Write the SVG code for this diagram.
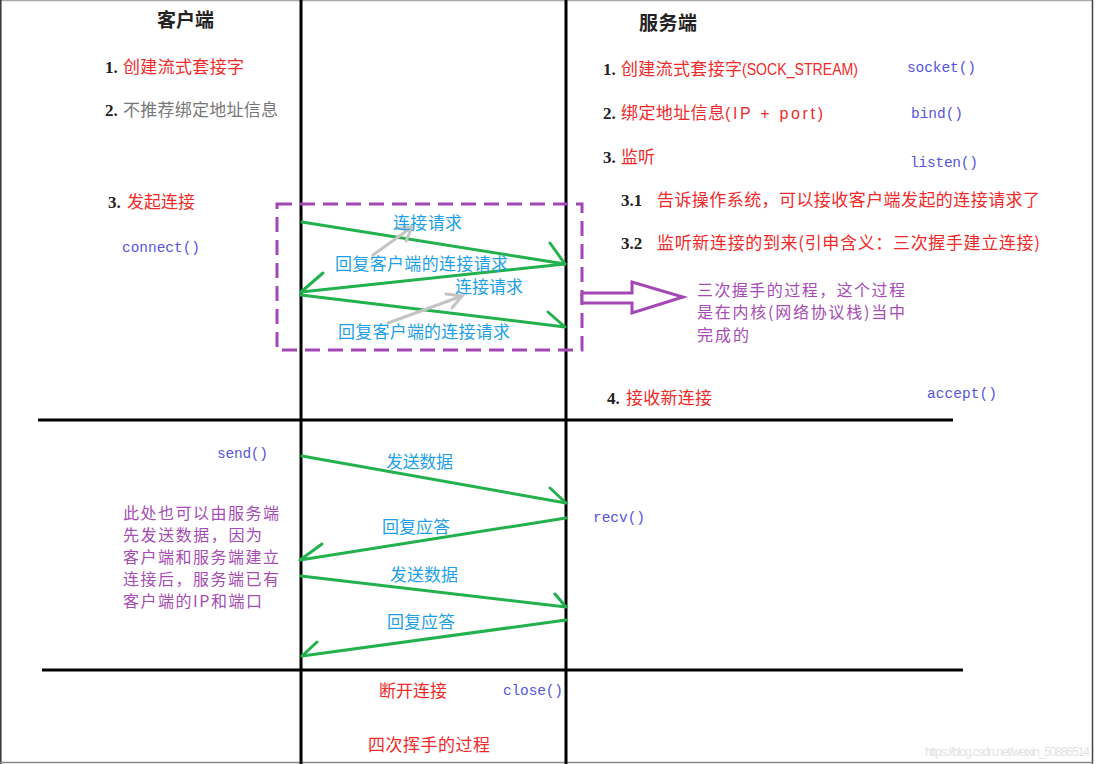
<svg xmlns="http://www.w3.org/2000/svg" width="1096" height="764" viewBox="0 0 1096 764">
<style>
.cjk{font-family:"Noto Sans CJK SC","Noto Sans",sans-serif;font-size:17px}
.sm{font-size:16px}
.hd{font-family:"Noto Sans CJK SC",sans-serif;font-size:19px;font-weight:bold;fill:#222}
.num{font-family:"Liberation Serif",serif;font-size:17px;font-weight:bold;fill:#222}
.red{fill:#f02a2a}
.gray{fill:#777}
.cyan{fill:#1f9fe6}
.pur{fill:#a64cb4}
.fn{font-family:"Liberation Mono",monospace;font-size:14.5px;fill:#5555dd}
.lat{font-family:"Liberation Sans",sans-serif;font-size:16px}
.axis{stroke:#000;stroke-width:3;fill:none}
.msg{stroke:#22b14c;stroke-width:3;fill:none;stroke-linecap:round}
.hint{stroke:#c4c4c4;stroke-width:3;fill:none;stroke-linecap:round}
</style>
<rect x="0" y="0" width="1096" height="764" fill="#fff"/>
<g id="frame">
<line x1="0" y1="0.5" x2="1093" y2="0.5" stroke="#aaa" stroke-width="1.5"/>
<line x1="0.8" y1="0" x2="0.8" y2="764" stroke="#333" stroke-width="1.5"/>
<line x1="1092.5" y1="0" x2="1092.5" y2="764" stroke="#444" stroke-width="1.5"/>
<line x1="0" y1="762.5" x2="1093" y2="762.5" stroke="#888" stroke-width="1.5"/>
</g>
<g id="lanes">
<line class="axis" x1="301" y1="0" x2="301" y2="764"/>
<line class="axis" x1="566" y1="0" x2="566" y2="764"/>
<line class="axis" x1="38" y1="420" x2="953" y2="420"/>
<line class="axis" x1="42" y1="670" x2="963" y2="670"/>
</g>
<g id="client">
<text class="hd" x="157" y="27" textLength="57">客户端</text>
<text x="105" y="73"><tspan class="num">1.</tspan><tspan class="cjk red" x="123" textLength="121">创建流式套接字</tspan></text>
<text x="105" y="116"><tspan class="num">2.</tspan><tspan class="cjk gray" x="123" textLength="155">不推荐绑定地址信息</tspan></text>
<text x="108" y="208"><tspan class="num">3.</tspan><tspan class="cjk red" x="127" textLength="68">发起连接</tspan></text>
<text class="fn" x="122" y="252" textLength="78">connect()</text>
<text class="fn" x="217" y="458" textLength="51">send()</text>
</g>
<g id="server">
<text class="hd" x="639" y="30" textLength="58">服务端</text>
<text x="603" y="75"><tspan class="num">1.</tspan><tspan class="cjk red" x="621" textLength="121">创建流式套接字</tspan><tspan class="lat red" x="742" textLength="116" lengthAdjust="spacingAndGlyphs">(SOCK_STREAM)</tspan></text>
<text class="fn" x="907" y="72" textLength="69">socket()</text>
<text x="603" y="119"><tspan class="num">2.</tspan><tspan class="cjk red" x="621" textLength="104">绑定地址信息</tspan><tspan class="lat red" x="725" textLength="98">(IP + port)</tspan></text>
<text class="fn" x="911" y="118" textLength="52">bind()</text>
<text x="603" y="163"><tspan class="num">3.</tspan><tspan class="cjk red" x="621" textLength="34">监听</tspan></text>
<text class="fn" x="910" y="167" textLength="68">listen()</text>
<text x="621" y="206"><tspan class="num">3.1</tspan><tspan class="cjk red" x="657" textLength="383">告诉操作系统，可以接收客户端发起的连接请求了</tspan></text>
<text x="621" y="249"><tspan class="num">3.2</tspan><tspan class="cjk red" x="657" textLength="383">监听新连接的到来(引申含义：三次握手建立连接)</tspan></text>
<text x="607" y="404"><tspan class="num">4.</tspan><tspan class="cjk red" x="626" textLength="86">接收新连接</tspan></text>
<text class="fn" x="927" y="398" textLength="70">accept()</text>
<text class="fn" x="593" y="522" textLength="52">recv()</text>
</g>
<g id="handshake">
<rect x="277" y="204" width="305" height="146" fill="none" stroke="#a347b5" stroke-width="3" stroke-dasharray="15 8"/>
<polygon points="582,293 632,293 632,282 683,297 632,313 632,303 582,303" fill="#fff" stroke="#a347b5" stroke-width="3" stroke-linejoin="miter"/>
<text class="cjk sm pur" x="697" y="296" textLength="208">三次握手的过程，这个过程</text>
<text class="cjk sm pur" x="697" y="318" textLength="208">是在内核(网络协议栈)当中</text>
<text class="cjk sm pur" x="697" y="341" textLength="52">完成的</text>
</g>
<g id="connectors">
<path class="msg" d="M302,222 L565,264 M550,243 L565,264"/>
<path class="msg" d="M565,264 L301,292 M323,273 L301,292"/>
<path class="msg" d="M301,295 L565,327 M548,312 L565,327"/>
<path class="hint" d="M373,255 L412,227 M397,228.5 L412,227 L406,241"/>
<path class="hint" d="M388,323 L462,296 M446,294 L462,296 L452,308"/>
<path class="msg" d="M302,456 L566,503 M550,488 L566,503"/>
<path class="msg" d="M566,518 L300,560 M322,544 L300,560"/>
<path class="msg" d="M301,576 L566,607 M555,594 L566,607"/>
<path class="msg" d="M566,620 L302,656 M317,642 L302,656"/>
</g>
<g id="labels">
<text class="cjk cyan" x="393" y="229" textLength="69">连接请求</text>
<text class="cjk cyan" x="335" y="270" textLength="173">回复客户端的连接请求</text>
<text class="cjk cyan" x="455" y="293" textLength="68">连接请求</text>
<text class="cjk cyan" x="338" y="338" textLength="172">回复客户端的连接请求</text>
<text class="cjk cyan" x="386" y="468" textLength="67">发送数据</text>
<text class="cjk cyan" x="382" y="533" textLength="68">回复应答</text>
<text class="cjk cyan" x="390" y="581" textLength="68">发送数据</text>
<text class="cjk cyan" x="387" y="628" textLength="68">回复应答</text>
</g>
<g id="note">
<text class="cjk sm pur" x="123" y="519" textLength="156">此处也可以由服务端</text>
<text class="cjk sm pur" x="123" y="541" textLength="139">先发送数据，因为</text>
<text class="cjk sm pur" x="123" y="563" textLength="156">客户端和服务端建立</text>
<text class="cjk sm pur" x="123" y="585" textLength="156">连接后，服务端已有</text>
<text class="cjk sm pur" x="123" y="607" textLength="139">客户端的IP和端口</text>
</g>
<g id="teardown">
<text class="cjk red" x="379" y="697" textLength="68">断开连接</text>
<text class="fn" x="503" y="695" textLength="60">close()</text>
<text class="cjk red" x="368" y="751" textLength="122">四次挥手的过程</text>
</g>
<text x="925" y="756" font-family="Liberation Sans, sans-serif" font-size="12" fill="#e2e2e2" textLength="165">https://blog.csdn.net/weixin_50886514</text>
</svg>
